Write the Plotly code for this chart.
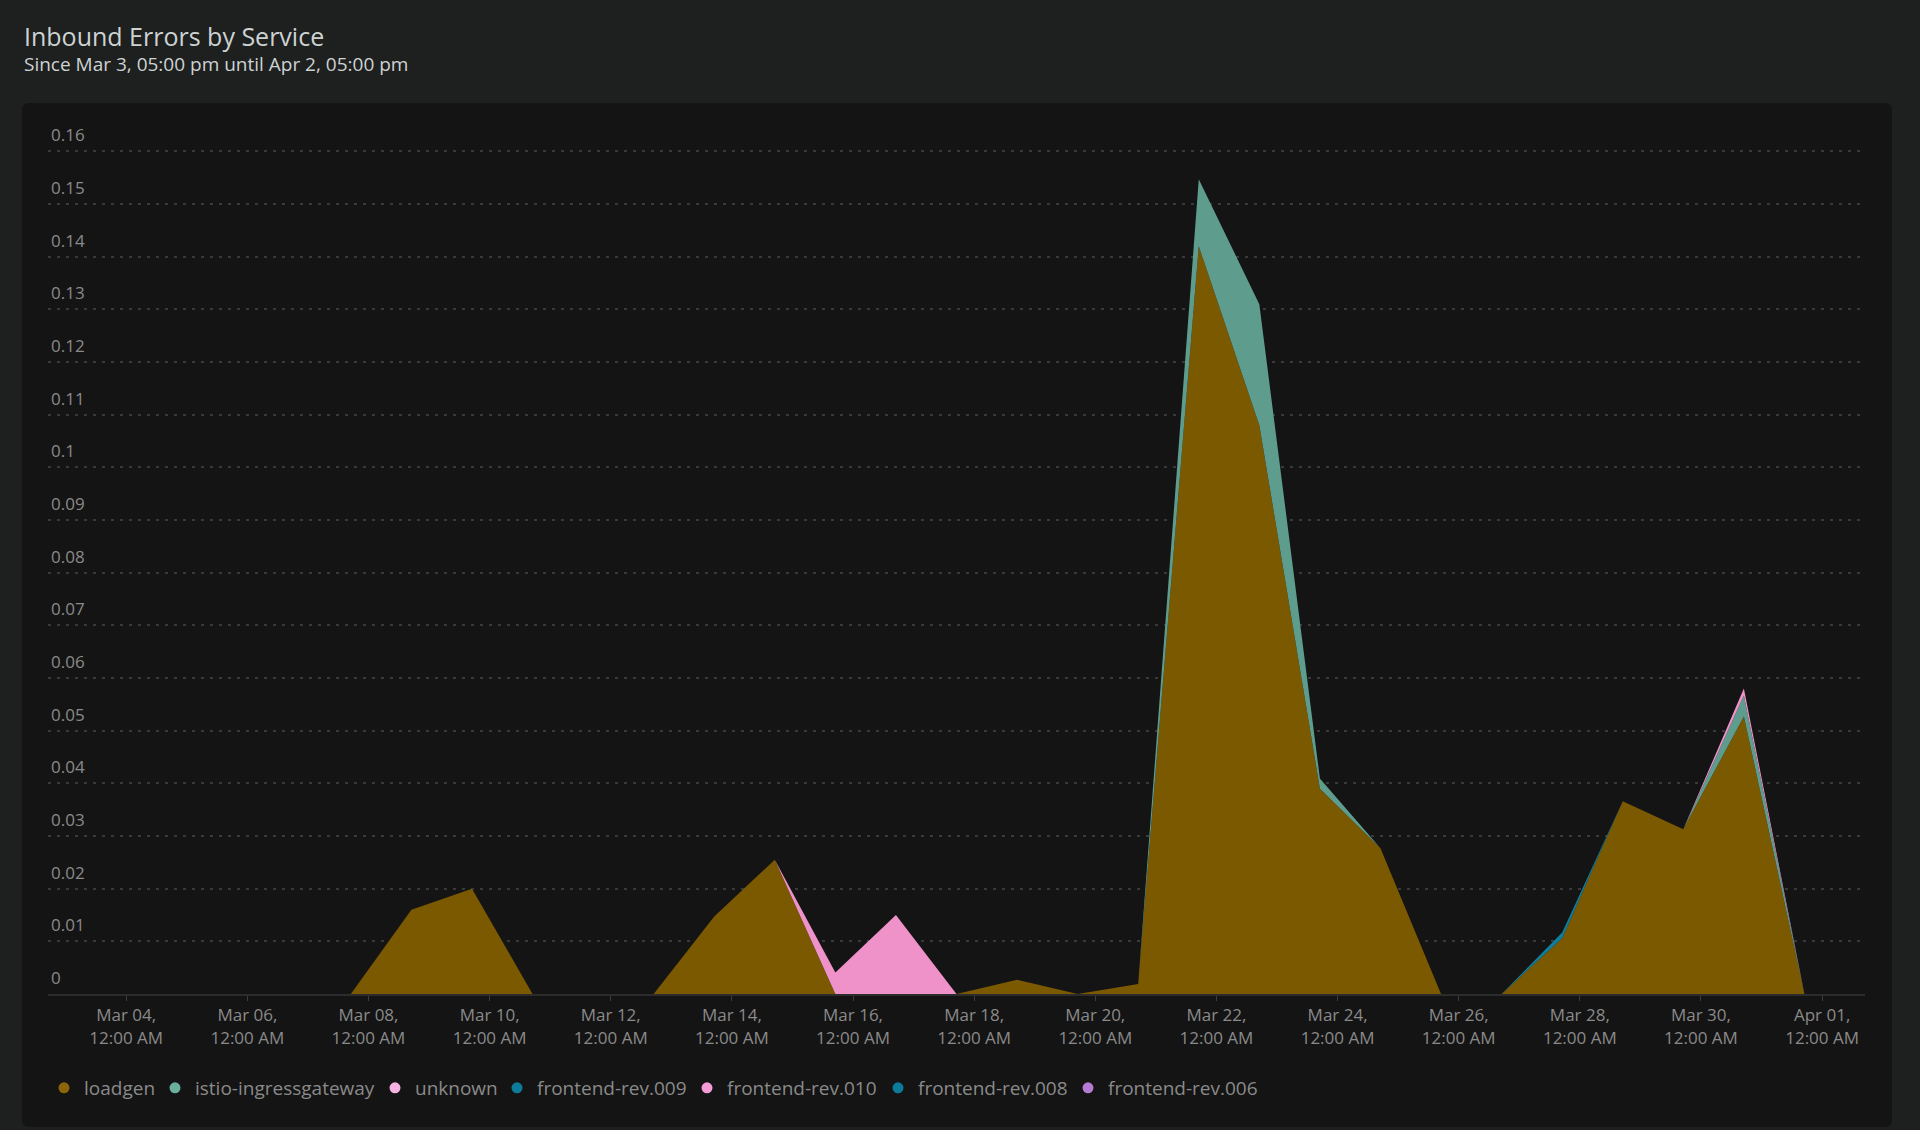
import plotly.graph_objects as go

# daily buckets, Mar 3 05:00 pm .. Apr 1 05:00 pm
dates = ["2024-03-%02d 17:00" % d for d in range(3, 32)] + ["2024-04-01 17:00"]

loadgen = [0, 0, 0, 0, 0, 0.016, 0.020, 0, 0, 0,
           0.0147, 0.0255, 0, 0, 0, 0.0027, 0, 0.0019, 0.142, 0.108,
           0.039, 0.0277, 0, 0, 0.0106, 0.0366, 0.0313, 0.0527, 0, 0]
istio = [0, 0, 0, 0, 0, 0, 0, 0, 0, 0,
         0, 0, 0, 0, 0, 0, 0, 0, 0.0127, 0.023,
         0.0019, 0, 0, 0, 0, 0, 0, 0.004, 0, 0]
unknown = [0, 0, 0, 0, 0, 0, 0, 0, 0, 0,
           0, 0, 0.0041, 0.015, 0, 0, 0, 0, 0, 0,
           0, 0, 0, 0, 0, 0, 0, 0.0013, 0, 0]
rev009 = [0, 0, 0, 0, 0, 0, 0, 0, 0, 0,
          0, 0, 0, 0, 0, 0, 0, 0, 0, 0,
          0, 0, 0, 0, 0.0011, 0, 0, 0, 0, 0]
rev010 = [0] * 30
rev008 = [0] * 30
rev006 = [0] * 30

series_names = ["loadgen", "istio-ingressgateway", "unknown", "frontend-rev.009",
                "frontend-rev.010", "frontend-rev.008", "frontend-rev.006"]
series_vals = [loadgen, istio, unknown, rev009, rev010, rev008, rev006]
area_colors = ["#7b5900", "#5e9c8d", "#ee92c9", "#0f7e9e", "#f39ad3", "#0c7b9a", "#b37bd0"]
dot_colors = ["#8a6608", "#6aae9d", "#f7b2e1", "#0e7b9a", "#f59bd6", "#0b7b99", "#b57ad1"]
# where each legend entry starts (px from left)
legend_left = [62, 173, 393, 515, 705, 896, 1086]

tick_days = ["2024-03-%02d" % d for d in range(4, 31, 2)] + ["2024-04-01"]
tick_text = ["Mar %02d,<br>12:00 AM" % d for d in range(4, 31, 2)] + ["Apr 01,<br>12:00 AM"]

fig = go.Figure()

for name, vals, col in zip(series_names, series_vals, area_colors):
    fig.add_trace(go.Scatter(
        x=dates, y=vals, name=name, stackgroup="one", mode="lines",
        line=dict(width=0, color=col), fillcolor=col, showlegend=False,
    ))

# legend entries drawn as round dots, one small legend each so spacing matches
legend_ids = ["legend"] + ["legend%d" % (i + 2) for i in range(len(series_names) - 1)]
for name, col, lid in zip(series_names, dot_colors, legend_ids):
    fig.add_trace(go.Scatter(
        x=[None], y=[None], mode="markers", name=name, legend=lid,
        marker=dict(symbol="circle", size=11, color=col),
    ))

# card behind the plot, rounded corners (paper units)
W, H = 1920, 1130
ml, mr, mt, mb = 48, 55, 110, 136
pw, ph = W - ml - mr, H - mt - mb
def px(x):
    return (x - ml) / pw
def py(y):
    return (H - mb - y) / ph
x0, x1, y0, y1 = px(22), px(1892), py(1127), py(103)
rx, ry = 7 / pw, 7 / ph
card = (f"M {x0+rx},{y0} L {x1-rx},{y0} Q {x1},{y0} {x1},{y0+ry} "
        f"L {x1},{y1-ry} Q {x1},{y1} {x1-rx},{y1} L {x0+rx},{y1} "
        f"Q {x0},{y1} {x0},{y1-ry} L {x0},{y0+ry} Q {x0},{y0} {x0+rx},{y0} Z")

legends = {}
for lid, lx in zip(legend_ids, legend_left):
    legends[lid] = dict(orientation="h", x=px(lx - 18), y=py(1088),
                        xanchor="left", yanchor="middle",
                        font=dict(size=19, color="#8a8a8a"), bgcolor="rgba(0,0,0,0)")

fig.update_layout(
    width=W, height=H,
    margin=dict(l=ml, r=mr, t=mt, b=mb),
    paper_bgcolor="#1e1f1f",
    plot_bgcolor="rgba(0,0,0,0)",
    font=dict(family="Open Sans", color="#8a8a8a"),
    shapes=[dict(type="path", path=card, xref="paper", yref="paper",
                 fillcolor="#141414", line=dict(width=0), layer="below")],
    annotations=[
        dict(text="Inbound Errors by Service", xref="paper", yref="paper",
             x=px(22), y=py(36), xanchor="left", yanchor="middle", showarrow=False,
             font=dict(size=25, color="#cdd3d3")),
        dict(text="Since Mar 3, 05:00 pm until Apr 2, 05:00 pm", xref="paper", yref="paper",
             x=px(22), y=py(64), xanchor="left", yanchor="middle", showarrow=False,
             font=dict(size=19, color="#cdd3d3")),
    ],
    showlegend=True,
    xaxis=dict(
        type="date", range=["2024-03-02 17:00", "2024-04-01 17:00"],
        tickvals=tick_days, ticktext=tick_text,
        showgrid=False, zeroline=False,
        showline=True, linecolor="#2c2c2c", linewidth=2,
        ticks="outside", ticklen=5, tickcolor="#3c3c3c",
        tickfont=dict(size=17, color="#8a8a8a"),
    ),
    yaxis=dict(
        range=[0, 884 / 5266], tick0=0, dtick=0.01,
        showgrid=True, gridcolor="#3a3a3a", gridwidth=1.5, griddash="3px,6px",
        zeroline=False, showline=False, ticks="",
        ticklabelposition="inside top", ticklabeloverflow="allow", ticklabelshift=-4,
        tickfont=dict(size=17, color="#8a8a8a"),
    ),
)
fig.update_layout(**legends)

fig.write_html("out.html", config={"displayModeBar": False},
               post_script="document.body.style.margin='0';"
                           "document.body.style.background='#1e1f1f';")
